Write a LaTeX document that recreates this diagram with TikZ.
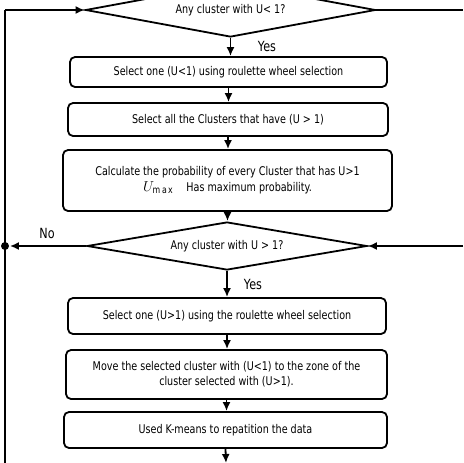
\documentclass[tikz,border=0pt]{standalone}
\usepackage{fontspec}
\setmainfont{DejaVu Sans}[FakeStretch=0.8]
\usetikzlibrary{shapes.geometric,arrows.meta}
\begin{document}
\begin{tikzpicture}[x=1pt,y=-1pt,
  line width=1.8pt,
  font=\fontsize{12}{15}\selectfont,
  procbox/.style={draw,rounded corners=5pt,inner sep=0pt,align=center},
  decision/.style={draw,diamond,inner sep=0pt},
  arr/.style={-{Latex[length=9pt,width=8pt]}},
  lbl/.style={font=\fontsize{14}{16}\selectfont}]
\useasboundingbox (0,0) rectangle (463,463);
% decision 1
\node[decision,shape aspect=5.37,minimum width=290pt,minimum height=54pt] (d1) at (230.5,10) {Any cluster with U< 1?};
\node[procbox,minimum width=317pt,minimum height=30pt] (b1) at (228.5,72) {Select one (U<1) using roulette wheel selection};
\node[procbox,minimum width=320pt,minimum height=33pt] (b2) at (228,119.5) {Select all the Clusters that have (U > 1)};
\node[procbox,minimum width=329pt,minimum height=61pt] (b3) at (227.5,180.5) {Calculate the probability of every Cluster that has U>1\\[1pt] {\fontsize{14}{15}\selectfont$U_{\mathrm{max}}$}\quad Has maximum probability.};
\node[decision,shape aspect=5.83,minimum width=280pt,minimum height=48pt] (d2) at (227,246) {Any cluster with U > 1?};
\node[procbox,minimum width=318pt,minimum height=36pt] (b4) at (227,316) {Select one (U>1) using the roulette wheel selection};
\node[procbox,minimum width=321pt,minimum height=49pt] (b5) at (226.5,374.5) {Move the selected cluster with (U<1) to the zone of the\\ cluster selected with (U>1).};
\node[procbox,minimum width=323pt,minimum height=36pt] (b6) at (225.5,430) {Used K-means to repatition the data};
% side coordinates
\coordinate (tl) at (5,10);
\coordinate (bl) at (5,463);
\coordinate (tr) at (463,10);
\coordinate (mr) at (463,246);
\coordinate (bend) at (226,463);
\node[circle,fill,inner sep=0pt,minimum size=8pt] (dot) at (5,246) {};
% labels
\node[lbl] (yes1) at (267,46) {Yes};
\node[lbl] (yes2) at (253,284) {Yes};
\node[lbl] (no) at (47,233) {No};
% connectors
\draw[arr] (d1.south) -- (d1.south |- b1.north);
\draw[arr] (b1.south) -- (b1.south |- b2.north);
\draw[arr] (b2.south) -- (b2.south |- b3.north);
\draw[arr] (b3.south) -- (b3.south |- d2.north);
\draw[arr] (d2.south) -- (d2.south |- b4.north);
\draw[arr] (b4.south) -- (b4.south |- b5.north);
\draw[arr] (b5.south) -- (b5.south |- b6.north);
\draw[arr] (b6.south) -- (bend);
\draw (bl) -- (tl);
\draw[arr] (tl) -- (d1.west);
\draw (d1.east) -- (tr);
\draw[arr] (mr) -- (d2.east);
\draw[arr] (d2.west) -- (dot);
\end{tikzpicture}
\end{document}
